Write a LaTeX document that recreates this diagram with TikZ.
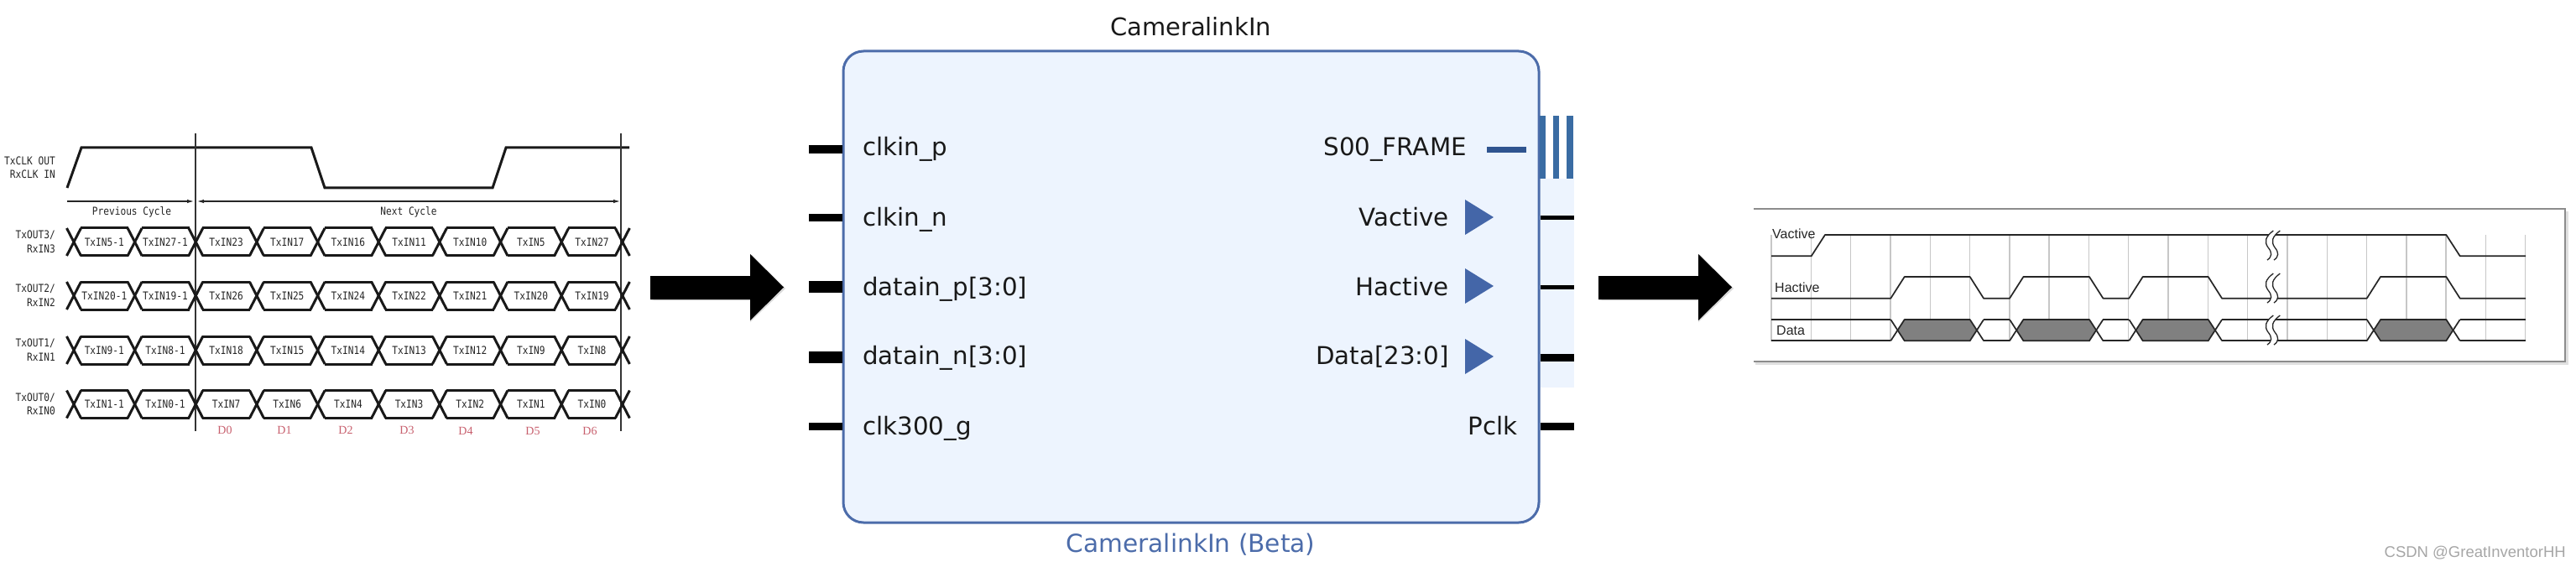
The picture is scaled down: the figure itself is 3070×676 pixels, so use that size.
\documentclass[tikz,border=0pt]{standalone}
\usepackage{fontspec}
\setmainfont{DejaVu Sans}
\newfontfamily\cadf[FakeStretch=0.86]{DejaVu Sans Mono}
\newfontfamily\arialf{Liberation Sans}
\newfontfamily\timesf{Liberation Serif}
\usetikzlibrary{arrows.meta,calc}
\definecolor{blockfill}{HTML}{EDF4FE}
\definecolor{blockline}{HTML}{4C6CAA}
\definecolor{tri}{HTML}{4466A8}
\definecolor{bars}{HTML}{3A6CA3}
\definecolor{frameport}{HTML}{2F5490}
\definecolor{redlab}{HTML}{C8606E}
\newcommand{\pxfont}[2]{#1\fontsize{#2}{#2}\selectfont}
\tikzset{
  x=1pt,y=-1pt,
  cadtext/.style={font=\pxfont{\cadf}{13},text=black!85,inner sep=0pt},
  cadlabel/.style={cadtext,anchor=east},
  redtext/.style={font=\pxfont{\timesf}{14},text=redlab,inner sep=0pt},
  wave/.style={line width=3pt,black!90,line cap=butt,line join=miter},
  cursor/.style={line width=1.3pt,black!80},
  dimline/.style={line width=1.1pt,black!85,-{Latex[length=8pt,width=4.5pt]}},
  bigarrow/.style={fill=black},
  bigshadow/.style={fill=black!15},
  portlab/.style={font=\pxfont{\rmfamily}{29.3},text=black!90,inner sep=0pt},
  stub/.style={black,line cap=butt},
  chart/.style={line width=1.7pt,black!85,line join=round},
  gridl/.style={line width=1.4pt,black!22},
  chartlab/.style={font=\pxfont{\arialf}{16},text=black!85,inner sep=0pt},
  brk/.style={line width=1.3pt,black!85},
}
\newcommand{\bigarr}[3]{% x start, head base, tip
  \fill[bigshadow] (#1+1,358) -- (#2,358) -- (#2,384) -- (#3+2,344) -- (#2+2,304) -- (#2,329) -- cycle;
  \fill[bigarrow] (#1,329) -- (#2,329) -- (#2,303) -- (#3,342.5) -- (#2,382) -- (#2,357) -- (#1,357) -- cycle;
}
\newcommand{\brkmark}[1]{% top y
  \fill[white] (2709.3,#1) .. controls (2700,#1+7) and (2698,#1+13) .. (2703,#1+20) .. controls (2708,#1+26) and (2708,#1+31) .. (2702,#1+35)
     -- (2710,#1+35) .. controls (2716,#1+31) and (2716,#1+26) .. (2711,#1+20) .. controls (2706,#1+13) and (2708,#1+7) .. (2717.3,#1) -- cycle;
  \draw[brk] (2709.3,#1) .. controls (2700,#1+7) and (2698,#1+13) .. (2703,#1+20) .. controls (2708,#1+26) and (2708,#1+31) .. (2702,#1+35);
  \draw[brk] (2717.3,#1) .. controls (2708,#1+7) and (2706,#1+13) .. (2711,#1+20) .. controls (2716,#1+26) and (2716,#1+31) .. (2710,#1+35);
}
\newcommand{\datacell}[2]{% start x, end x of a filled cell
  \fill[black!50] (#1+8.2,393.7) -- (#1+16.4,381) -- (#2,381) -- (#2+8.2,393.7) -- (#2,406.3) -- (#1+16.4,406.3) -- cycle;
  \draw[chart] (#1,381) -- (#1+16.4,406.3) -- (#2,406.3) -- (#2+16.4,381);
  \draw[chart] (#1,406.3) -- (#1+16.4,381) -- (#2,381) -- (#2+16.4,406.3);
}
\begin{document}
\begin{tikzpicture}
\useasboundingbox (0,0) rectangle (3070,676);
\fill[white] (0,0) rectangle (3070,676);

% ---- left timing diagram
\draw[wave] (80,224) -- (97,176) -- (371,176) -- (387,224) -- (587,224) -- (603,176) -- (750,176);
\coordinate (cL) at (233,240);
\coordinate (cR) at (740,240);
\coordinate (dL) at (80,240);
\draw[cursor] (233,159) -- (233,514);
\draw[cursor] (740,159) -- (740,514);
\draw[dimline] (dL) -- ($(cL)+(-2,0)$);
\draw[dimline] ($(cL)+(250,0)$) -- ($(cL)+(2,0)$);
\draw[dimline] ($(cL)+(250,0)$) -- ($(cR)+(-1,0)$);
\node[cadtext] (prev) at (157,253) {Previous Cycle};
\node[cadtext] (next) at (487,253) {Next Cycle};
\node[cadlabel] (clka) at (66,192) {TxCLK OUT};
\node[cadlabel] (clkb) at (66,208) {RxCLK IN};

\foreach \rw/\cy/\la/\lb/\cells in {
  3/288.5/{TxOUT3/}/RxIN3/{TxIN5-1,TxIN27-1,TxIN23,TxIN17,TxIN16,TxIN11,TxIN10,TxIN5,TxIN27},
  2/352.5/{TxOUT2/}/RxIN2/{TxIN20-1,TxIN19-1,TxIN26,TxIN25,TxIN24,TxIN22,TxIN21,TxIN20,TxIN19},
  1/417.5/{TxOUT1/}/RxIN1/{TxIN9-1,TxIN8-1,TxIN18,TxIN15,TxIN14,TxIN13,TxIN12,TxIN9,TxIN8},
  0/482/{TxOUT0/}/RxIN0/{TxIN1-1,TxIN0-1,TxIN7,TxIN6,TxIN4,TxIN3,TxIN2,TxIN1,TxIN0}}{
  \node[cadlabel] (la\rw) at (66,\cy-8) {\la};
  \node[cadlabel] (lb\rw) at (66,\cy+8) {\lb};
  \foreach \i in {0,...,9}{
    \pgfmathsetmacro{\cx}{88+72.65*\i}
    \draw[wave] (\cx-8.5,\cy-16.5) -- (\cx+8.5,\cy+16.5);
    \draw[wave] (\cx-8.5,\cy+16.5) -- (\cx+8.5,\cy-16.5);
  }
  \foreach \i in {0,...,8}{
    \pgfmathsetmacro{\cx}{88+72.65*\i}
    \draw[wave] (\cx+8,\cy-16.5) -- (\cx+65,\cy-16.5);
    \draw[wave] (\cx+8,\cy+16.5) -- (\cx+65,\cy+16.5);
  }
  \foreach \t [count=\j from 0] in \cells {
    \pgfmathsetmacro{\cx}{88+72.65*(\j+0.5)}
    \node[cadtext] (c\rw-\j) at (\cx,\cy) {\t};
  }
}
\foreach \t/\x/\y in {D0/268/513,D1/339/513,D2/412/513,D3/485/513,D4/555/514,D5/635/514,D6/703/514}{
  \node[redtext] (\t) at (\x,\y) {\t};
}

% ---- big arrows
\bigarr{775}{894}{934}
\bigarr{1905}{2024}{2064}

% ---- block
\fill[blockfill] (1836,213) rectangle (1876,462);
\node[draw=blockline,fill=blockfill,line width=3pt,rounded corners=24pt,minimum width=829pt,minimum height=562pt,inner sep=0pt] (block) at (1419.5,342) {};
\node[font=\pxfont{\rmfamily}{29},text=black!90,inner sep=0pt] (title) at (1419,32) {CameralinkIn};
\node[font=\pxfont{\rmfamily}{29.6},text=blockline,inner sep=0pt] (sub) at (1419,649) {CameralinkIn (Beta)};

% left ports
\foreach \nm/\lab/\y/\base/\th in {a/clkin\_p/178/186/9.5,b/clkin\_n/260/270/9,c/datain\_p[3:0]/342/352/14,d/datain\_n[3:0]/426/434/14,e/clk300\_g/508/518/9}{
  \coordinate (in\nm) at (964,\y);
  \draw[stub,line width=\th pt] (in\nm) -- (in\nm -| block.west);
  \node[portlab,anchor=base west] (inl\nm) at (1028,\base) {\lab};
}
% right ports
\foreach \nm/\lab/\y/\base/\th/\xr in {a/Vactive/260/270/5/1727,b/Hactive/342/352/5/1727,c/Data[23:0]/426/434/9/1727,d/Pclk/508/518/9/1809}{
  \coordinate (out\nm) at (1876,\y);
  \draw[stub,line width=\th pt] (out\nm -| block.east) -- (out\nm);
  \node[portlab,anchor=base east] (outl\nm) at (\xr,\base) {\lab};
}
\foreach \y in {259,341,425}{
  \fill[tri] (1746,\y-21) -- (1780,\y) -- (1746,\y+21) -- cycle;
}
\node[portlab,anchor=base east] (s00) at (1748,186) {S00\_FRAME};
\draw[frameport,line width=7pt] (1772,179) -- (1819,179);
\fill[bars] (1835,138) rectangle (1842,213);
\fill[bars] (1851,138) rectangle (1858,213);
\fill[bars] (1867,138) rectangle (1875,213);

% ---- right timing chart
\draw[line width=4pt,black!12] (2092,433) -- (3059,433) -- (3059,252);
\draw[line width=2pt,black!45] (2090,249) -- (3057,249) -- (3057,431) -- (2090,431);
\foreach \n in {0,...,19}{
  \draw[gridl] ({2111+47.3*\n},280) -- ({2111+47.3*\n},407);
}
\draw[chart] (2111,305.3) -- (2158.7,305.3) -- (2175,280) -- (2915.3,280) -- (2931.7,305.3) -- (3010,305.3);
\draw[chart] (2111,355.7) -- (2253.3,355.7) -- (2269.7,330) -- (2347.7,330) -- (2364,355.7) -- (2395,355.7) -- (2411.4,330) -- (2490,330) -- (2506.4,355.7) -- (2537.3,355.7) -- (2553.7,330) -- (2631.7,330) -- (2648,355.7) -- (2820.7,355.7) -- (2837,330) -- (2915.3,330) -- (2931.7,355.7) -- (3010,355.7);
\draw[chart] (2111,381) -- (2253.3,381);
\draw[chart] (2111,406.3) -- (2253.3,406.3);
\datacell{2253.3}{2347.7}
\draw[chart] (2364,381) -- (2395,381);
\draw[chart] (2364,406.3) -- (2395,406.3);
\datacell{2395}{2490}
\draw[chart] (2506.4,381) -- (2537.3,381);
\draw[chart] (2506.4,406.3) -- (2537.3,406.3);
\datacell{2537.3}{2631.7}
\draw[chart] (2648,381) -- (2820.7,381);
\draw[chart] (2648,406.3) -- (2820.7,406.3);
\datacell{2820.7}{2915.3}
\draw[chart] (2931.7,381) -- (3010,381);
\draw[chart] (2931.7,406.3) -- (3010,406.3);
\brkmark{275}
\brkmark{326}
\brkmark{376}
\node[chartlab,anchor=west] (v) at (2112,279) {Vactive};
\node[chartlab,anchor=west] (h) at (2115,343) {Hactive};
\node[chartlab,anchor=west] (dt) at (2117,394) {Data};

% ---- watermark
\node[font=\pxfont{\arialf}{18.5},text=black!35,inner sep=0pt,anchor=east] (wm) at (3058,659) {CSDN @GreatInventorHH};
\end{tikzpicture}
\end{document}
